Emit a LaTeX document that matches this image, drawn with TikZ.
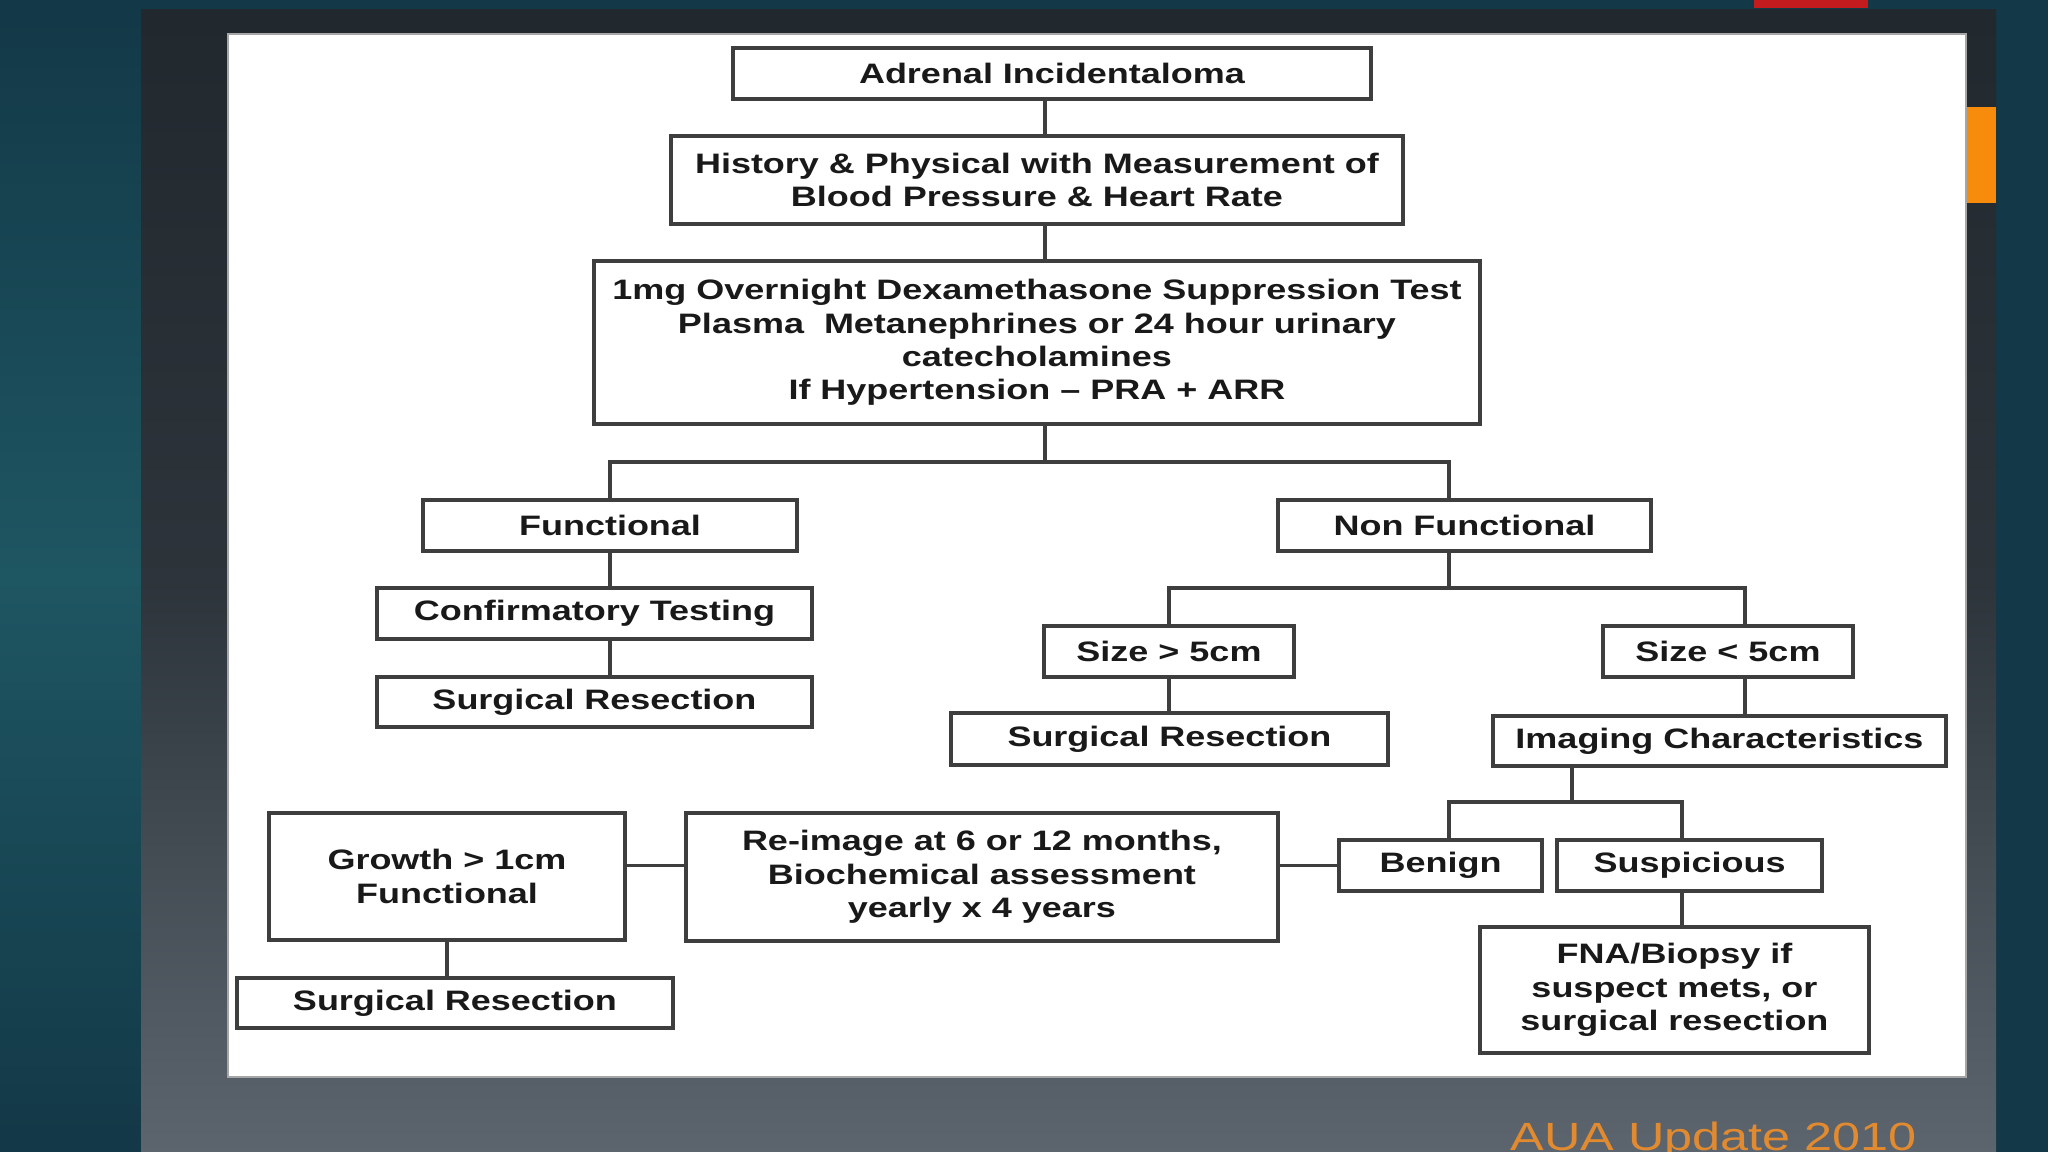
\documentclass[tikz,border=0pt]{standalone}
\usepackage{fontspec}
\setmainfont{Liberation Sans}
\newfontfamily\boxfont[FakeStretch=1.28]{Liberation Sans}
\newfontfamily\slidefont[FakeStretch=1.28]{Liberation Sans}
\definecolor{slideteal}{RGB}{19,56,71}
\definecolor{tealglow}{RGB}{30,86,98}
\definecolor{frametop}{RGB}{33,40,46}
\definecolor{framebot}{RGB}{92,101,110}
\definecolor{slideorange}{RGB}{247,140,12}
\definecolor{slidered}{RGB}{196,28,30}
\definecolor{boxline}{RGB}{62,62,62}
\definecolor{footercol}{RGB}{226,138,48}
\begin{document}
\begin{tikzpicture}[x=1cm,y=-1cm]
\tikzset{flowbox/.style={rectangle,draw=boxline,line width=0.9pt,fill=white,inner sep=0pt,align=center,text=black!90,font=\boxfont\bfseries\fontsize{8}{9.5}\selectfont},
         link/.style={draw=boxline,line width=0.9pt}}
\useasboundingbox (0,0) rectangle (20.48,11.52);
% slide background
\fill[slideteal] (0,0) rectangle (20.48,11.52);
\shade[top color=slideteal,bottom color=slideteal,middle color=tealglow] (0,0) rectangle (1.41,11.52);
\shade[top color=frametop,bottom color=framebot,middle color=frametop!80!framebot] (1.41,0.10) rectangle (19.96,11.52);
\fill[slidered] (17.54,0) rectangle (18.68,0.08);
\fill[slideorange] (19.66,1.07) rectangle (19.96,2.03);
\fill[white] (2.28,0.34) rectangle (19.66,10.77);
\draw[gray!70,line width=0.6pt] (2.28,0.34) rectangle (19.66,10.77);
% boxes
\node[flowbox,minimum width=6.38cm,minimum height=0.51cm] (inc) at (10.52,0.735) {Adrenal Incidentaloma};
\node[flowbox,minimum width=7.32cm,minimum height=0.88cm] (hist) at (10.37,1.80) {History \& Physical with Measurement of\\Blood Pressure \& Heart Rate};
\node[flowbox,minimum width=8.86cm,minimum height=1.63cm] (dex) at (10.37,3.425) {1mg Overnight Dexamethasone Suppression Test\\Plasma\ \ Metanephrines or 24 hour urinary\\catecholamines\\If Hypertension – PRA + ARR};
\node[flowbox,minimum width=3.74cm,minimum height=0.51cm] (func) at (6.10,5.255) {Functional};
\node[flowbox,minimum width=3.73cm,minimum height=0.51cm] (nonfunc) at (14.645,5.255) {Non Functional};
\node[flowbox,minimum width=4.35cm,minimum height=0.51cm] (confirm) at (5.945,6.135) {Confirmatory Testing};
\node[flowbox,minimum width=4.35cm,minimum height=0.50cm] (surgfunc) at (5.945,7.02) {Surgical Resection};
\node[flowbox,minimum width=2.50cm,minimum height=0.51cm] (large) at (11.69,6.515) {Size > 5cm};
\node[flowbox,minimum width=2.50cm,minimum height=0.51cm] (small) at (17.28,6.515) {Size < 5cm};
\node[flowbox,minimum width=4.37cm,minimum height=0.52cm] (surglarge) at (11.695,7.39) {Surgical Resection};
\node[flowbox,minimum width=4.53cm,minimum height=0.50cm] (imaging) at (17.195,7.41) {Imaging Characteristics};
\node[flowbox,minimum width=3.56cm,minimum height=1.27cm] (growth) at (4.47,8.765) {Growth > 1cm\\Functional};
\node[flowbox,minimum width=5.92cm,minimum height=1.28cm] (reimage) at (9.82,8.77) {Re-image at 6 or 12 months,\\Biochemical assessment\\yearly x 4 years};
\node[flowbox,minimum width=2.03cm,minimum height=0.51cm] (benign) at (14.405,8.655) {Benign};
\node[flowbox,minimum width=2.65cm,minimum height=0.51cm] (suspicious) at (16.895,8.655) {Suspicious};
\node[flowbox,minimum width=3.89cm,minimum height=1.26cm] (fna) at (16.745,9.90) {FNA/Biopsy if\\suspect mets, or\\surgical resection};
\node[flowbox,minimum width=4.36cm,minimum height=0.50cm] (surggrowth) at (4.55,10.03) {Surgical Resection};
% joints
\coordinate (trunk) at (10.45,0);
\coordinate (split) at (10.45,4.62);
\coordinate (nfdrop) at (14.49,5.00);
\coordinate (nfsplit) at (14.49,5.88);
\coordinate (smalldrop) at (17.45,6.26);
\coordinate (imgsplit) at (15.72,8.02);
\coordinate (bendrop) at (14.49,8.40);
\coordinate (susdrop) at (16.82,8.40);
% connectors
\draw[link] (inc.south -| trunk) -- (hist.north -| trunk);
\draw[link] (hist.south -| trunk) -- (dex.north -| trunk);
\draw[link] (dex.south -| trunk) -- (split);
\draw[link] (func.north) |- (split) -| (nfdrop);
\draw[link] (func.south) -- (func.south |- confirm.north);
\draw[link] (confirm.south -| func.south) -- (surgfunc.north -| func.south);
\draw[link] (nonfunc.south -| nfdrop) -- (nfsplit);
\draw[link] (large.north) |- (nfsplit) -| (smalldrop);
\draw[link] (large.south) -- (large.south |- surglarge.north);
\draw[link] (small.south -| smalldrop) -- (imaging.north -| smalldrop);
\draw[link] (imaging.south -| imgsplit) -- (imgsplit);
\draw[link] (bendrop) |- (imgsplit) -| (susdrop);
\draw[link] (suspicious.south -| susdrop) -- (fna.north -| susdrop);
\draw[link] (reimage.east |- benign.west) -- (benign.west);
\draw[link] (growth.east |- benign.west) -- (reimage.west |- benign.west);
\draw[link] (growth.south) -- (growth.south |- surggrowth.north);
% footer
\node[anchor=base west,inner sep=0pt,text=footercol,font=\slidefont\fontsize{11.2}{13}\selectfont] (footer) at (15.10,11.50) {AUA Update 2010};
\end{tikzpicture}
\end{document}
